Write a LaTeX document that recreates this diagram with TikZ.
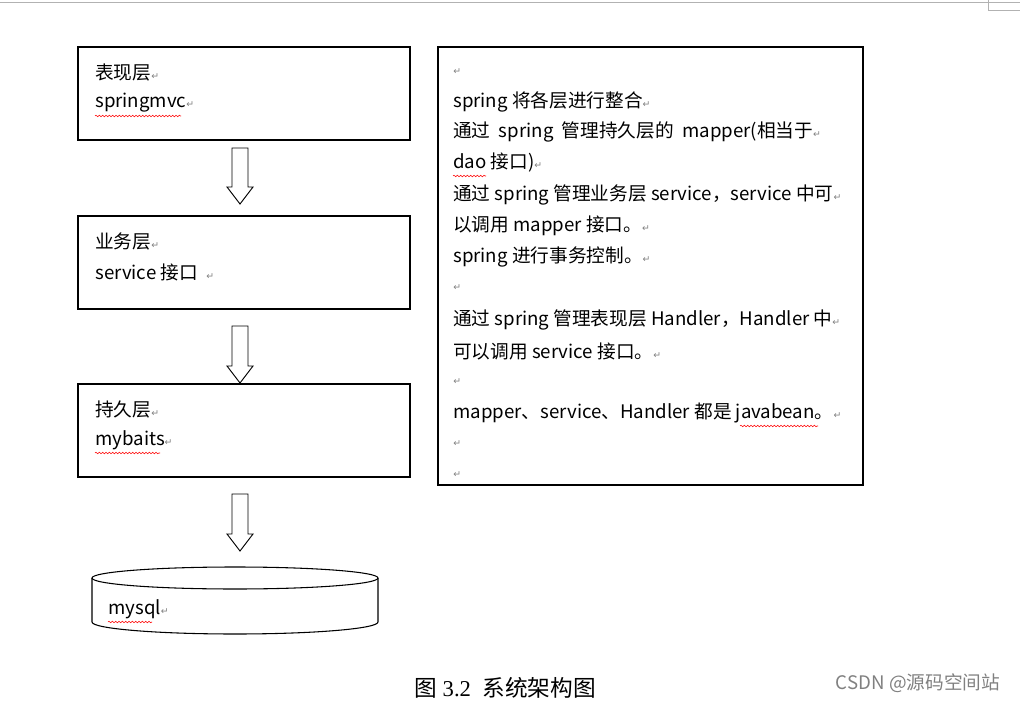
\documentclass[tikz,border=0pt]{standalone}
\usepackage{fontspec}
\setmainfont{Liberation Serif}
\newfontfamily\cjk{Noto Sans CJK SC}
\newfontfamily\sym{DejaVu Sans}
\newcommand{\rt}{\textcolor{gray}{\sym\fontsize{7pt}{8pt}\selectfont ↵}}
\usetikzlibrary{decorations.pathmorphing}
\begin{document}
\begin{tikzpicture}[x=0.75pt,y=-0.75pt,
  layerbox/.style={draw,line width=0.8pt},
  txt/.style={anchor=west,inner sep=0pt,font=\cjk\fontsize{14pt}{16pt}\selectfont},
  wavy/.style={red,line width=0.4pt,decorate,decoration={snake,amplitude=0.6pt,segment length=2.5pt}}]
\useasboundingbox (0,0) rectangle (1020,702);
\draw[gray!60] (0,2) -- (1020,2);
\draw[gray!60] (988,0) -- (988,10) -- (1020,10);
% left boxes
\draw[layerbox] (78,47) rectangle (410,140);
\draw[layerbox] (78,216) rectangle (410,309);
\draw[layerbox] (78,384) rectangle (410,477);
\node[txt] (l1a) at (95,72) {表现层\rt};
\node[txt] (l1b) at (95,103) {springmvc\rt};
\node[txt] (l2a) at (95,241) {业务层\rt};
\node[txt] (l2b) at (95,272) {service 接口 \ \rt};
\node[txt] (l3a) at (95,409) {持久层\rt};
\node[txt] (l3b) at (95,440) {mybaits\rt};
\draw[wavy] (95,116) -- (181,116);
\draw[wavy] (95,453) -- (160,453);
% hollow arrows
\foreach \t/\b in {148/204,326/383,494/551}{
  \draw[line width=0.7pt] (232,\t) -- (248,\t) -- (248,\b-17) -- (253,\b-17) -- (240,\b) -- (227,\b-17) -- (232,\b-17) -- cycle;
}
% cylinder
\draw[line width=0.8pt] (92,578) -- (92,622) arc[start angle=180,end angle=0,x radius=143,y radius=12] -- (378,578);
\draw[line width=0.8pt] (235,578) ellipse[x radius=143,y radius=11];
\node[txt] (db) at (108,609) {mysql\rt};
\draw[wavy] (108,622) -- (152,622);
% right box
\draw[layerbox] (438,47) rectangle (863,485);
\foreach \y/\s in {
 72/{},
 102/{spring 将各层进行整合},
 132/{通过\ \ spring\ \ 管理持久层的\ \ mapper(相当于},
 163/{dao 接口)},
 195/{通过 spring 管理业务层 service，service 中可},
 226/{以调用 mapper 接口。},
 257/{spring 进行事务控制。},
 288/{},
 320/{通过 spring 管理表现层 Handler，Handler 中},
 351/{可以调用 service 接口。},
 382/{},
 413/{mapper、service、Handler 都是 javabean。},
 444/{},
 475/{}}{
  \node[txt] at (453,\y) {\s\rt};
}
\draw[wavy] (453,176) -- (486,176);
\draw[wavy] (740,426) -- (818,426);
% caption
\node[font=\fontsize{17pt}{19pt}\selectfont] (cap) at (505,688) {{\cjk 图} 3.2\ \ {\cjk 系统架构图}};
\node[font=\cjk\fontsize{14pt}{16pt}\selectfont,text=gray] (wm) at (918,683) {CSDN @源码空间站};
\end{tikzpicture}
\end{document}
